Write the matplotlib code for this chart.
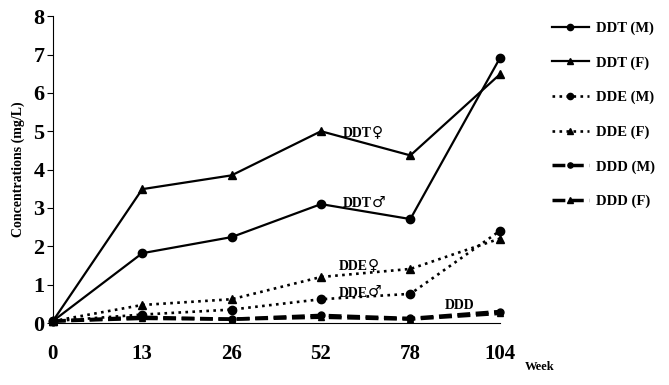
import numpy as np
import matplotlib
matplotlib.use("Agg")
from matplotlib import pyplot as plt
from matplotlib.transforms import offset_copy

weeks = ["0", "13", "26", "52", "78", "104"]
ddt_m = [0.05, 1.82, 2.24, 3.1, 2.71, 6.9]
ddt_f = [0.05, 3.49, 3.85, 5.0, 4.37, 6.48]
dde_m = [0.05, 0.22, 0.35, 0.62, 0.76, 2.4]
dde_f = [0.05, 0.47, 0.62, 1.2, 1.41, 2.2]
ddd_m = [0.05, 0.15, 0.1, 0.2, 0.12, 0.3]
ddd_f = [0.05, 0.12, 0.1, 0.15, 0.1, 0.25]

plt.rcParams["font.family"] = ["Liberation Serif", "DejaVu Sans"]
plt.rcParams["font.weight"] = "bold"

fig = plt.figure(figsize=(6.69, 3.85), dpi=100)
ax = fig.add_axes([0.079, 0.161, 0.668, 0.797])
x = np.arange(len(weeks))

series = [
    (ddt_m, "-", "o", 6, 1.6, "DDT (M)"),
    (ddt_f, "-", "^", 6, 1.6, "DDT (F)"),
    (dde_m, ":", "o", 6, 1.9, "DDE (M)"),
    (dde_f, ":", "^", 6, 1.9, "DDE (F)"),
    (ddd_m, "--", "o", 5, 2.5, "DDD (M)"),
    (ddd_f, "--", "^", 5, 2.5, "DDD (F)"),
]
for vals, ls, mk, ms, lw, lab in series:
    ax.plot(x, vals, ls=ls, marker=mk, ms=ms, lw=lw, color="black", label=lab, clip_on=False)

ax.set_xlim(0, 5)
ax.set_ylim(0, 8)
ax.set_xticks(x)
ax.set_xticklabels(weeks, fontsize=15, fontweight="bold")
ax.tick_params(axis="x", length=0, pad=15)
ax.set_yticks(range(9))
ax.tick_params(axis="y", labelsize=16, length=4, direction="out", pad=2)
for t in ax.get_yticklabels():
    t.set_fontweight("bold")
ax.spines["top"].set_visible(False)
ax.spines["right"].set_visible(False)
ax.spines["bottom"].set_linewidth(0.8)
ax.spines["left"].set_linewidth(0.8)
ax.set_ylabel("Concentrations (mg/L)", fontsize=10, fontweight="bold", labelpad=6)
ax.text(5.45, -1.15, "Week", fontsize=9, fontweight="bold", ha="center", va="center")

# curve labels: name in serif, sex symbol in DejaVu Sans (bigger glyph)
labels = [(3.24, 4.95, "DDT", "♀"), (3.24, 3.12, "DDT", "♂"),
          (3.2, 1.48, "DDE", "♀"), (3.2, 0.78, "DDE", "♂")]
for lx, ly, name, sym in labels:
    ax.text(lx, ly, name, fontsize=10, fontweight="bold", ha="left", va="center")
    ax.text(lx, ly, sym, fontsize=11, fontweight="bold", ha="left", va="center",
            family="DejaVu Sans", transform=offset_copy(ax.transData, fig=fig, x=21, y=1, units="points"))
ax.text(4.38, 0.45, "DDD", fontsize=10, fontweight="bold", ha="left", va="center")

leg = ax.legend(loc="upper left", bbox_to_anchor=(1.088, 1.025), frameon=False,
                prop={"size": 10.5, "weight": "bold"}, labelspacing=1.45,
                handlelength=2.5, handletextpad=0.5, markerscale=0.75)

fig.savefig("out.png", dpi=100)
